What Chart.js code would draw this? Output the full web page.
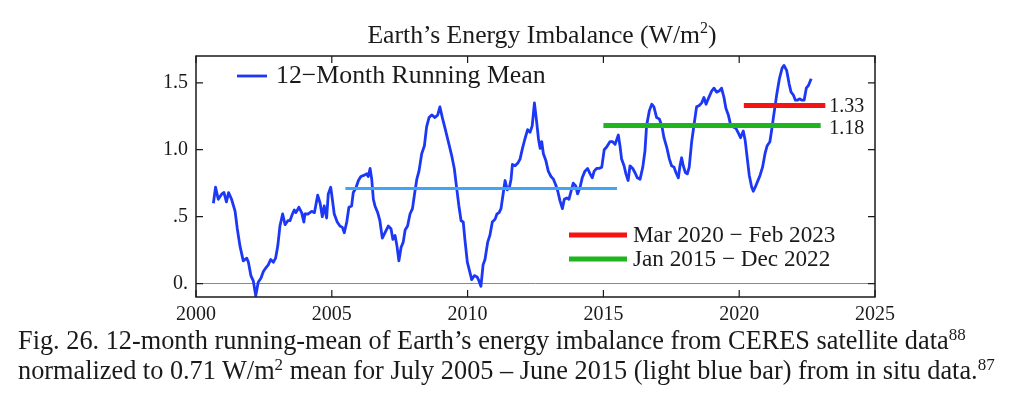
<!DOCTYPE html>
<html>
<head>
<meta charset="utf-8">
<script src="https://cdn.jsdelivr.net/npm/chart.js@4.4.1/dist/chart.umd.min.js"></script>
<style>
  html, body { margin: 0; padding: 0; background: #fff; }
  body { width: 1029px; height: 396px; position: relative; overflow: hidden; }
  #wrap { position: absolute; left: 0; top: 0; width: 1029px; height: 330px; }
  #caption {
    position: absolute; left: 18px; top: 326px; width: 1010px;
    font-family: "Liberation Serif", "Times New Roman", serif;
    font-size: 26.3px; line-height: 30px; color: #1a1a1a; white-space: nowrap;
  }
  #caption sup { font-size: 17px; line-height: 0; vertical-align: 9px; }
</style>
</head>
<body>
<div id="wrap"><canvas id="eei"></canvas></div>
<div id="caption">Fig. 26. 12-month running-mean of Earth’s energy imbalance from CERES satellite data<sup>88</sup><br>normalized to 0.71 W/m<sup>2</sup> mean for July 2005 – June 2015 (light blue bar) from in situ data.<sup>87</sup></div>
<script>
"use strict";

// 12-month running mean (decimal year, W/m2)
var years = [
  2000.64, 2000.72, 2000.82, 2000.95, 2001.03, 2001.12, 2001.20, 2001.31, 2001.44, 2001.52,
  2001.62, 2001.74, 2001.87, 2001.93, 2002.02, 2002.11, 2002.20, 2002.29, 2002.39, 2002.48,
  2002.58, 2002.66, 2002.75, 2002.85, 2002.93, 2003.01, 2003.09, 2003.19, 2003.28, 2003.38,
  2003.46, 2003.55, 2003.62, 2003.68, 2003.79, 2003.89, 2003.97, 2004.01, 2004.13, 2004.26,
  2004.36, 2004.48, 2004.57, 2004.65, 2004.72, 2004.81, 2004.87, 2004.96, 2005.02, 2005.09,
  2005.20, 2005.30, 2005.39, 2005.46, 2005.55, 2005.63, 2005.73, 2005.79, 2005.88, 2005.98,
  2006.07, 2006.20, 2006.28, 2006.34, 2006.41, 2006.47, 2006.53, 2006.59, 2006.69, 2006.77,
  2006.86, 2006.96, 2007.08, 2007.18, 2007.25, 2007.33, 2007.40, 2007.47, 2007.55, 2007.63,
  2007.70, 2007.79, 2007.88, 2007.97, 2008.04, 2008.13, 2008.21, 2008.31, 2008.41, 2008.49,
  2008.58, 2008.68, 2008.80, 2008.90, 2008.98, 2009.07, 2009.17, 2009.29, 2009.41, 2009.51,
  2009.60, 2009.68, 2009.76, 2009.84, 2009.90, 2009.99, 2010.09, 2010.15, 2010.25, 2010.35,
  2010.42, 2010.49, 2010.57, 2010.64, 2010.74, 2010.82, 2010.91, 2011.01, 2011.08, 2011.16,
  2011.23, 2011.28, 2011.38, 2011.46, 2011.54, 2011.60, 2011.65, 2011.75, 2011.85, 2011.93,
  2012.02, 2012.11, 2012.21, 2012.30, 2012.38, 2012.46, 2012.53, 2012.61, 2012.67, 2012.73,
  2012.79, 2012.88, 2012.97, 2013.07, 2013.16, 2013.24, 2013.32, 2013.40, 2013.49, 2013.56,
  2013.65, 2013.73, 2013.81, 2013.89, 2013.98, 2014.05, 2014.14, 2014.22, 2014.32, 2014.42,
  2014.51, 2014.59, 2014.66, 2014.75, 2014.84, 2014.94, 2015.03, 2015.12, 2015.24, 2015.34,
  2015.43, 2015.55, 2015.61, 2015.67, 2015.76, 2015.83, 2015.91, 2015.98, 2016.08, 2016.16,
  2016.25, 2016.35, 2016.45, 2016.53, 2016.59, 2016.69, 2016.78, 2016.86, 2016.96, 2017.06,
  2017.15, 2017.23, 2017.33, 2017.43, 2017.51, 2017.60, 2017.67, 2017.76, 2017.82, 2017.88,
  2017.94, 2018.02, 2018.09, 2018.16, 2018.25, 2018.34, 2018.43, 2018.53, 2018.62, 2018.70,
  2018.78, 2018.86, 2018.99, 2019.07, 2019.17, 2019.27, 2019.35, 2019.44, 2019.51, 2019.60,
  2019.69, 2019.78, 2019.88, 2019.98, 2020.05, 2020.15, 2020.22, 2020.30, 2020.37, 2020.46,
  2020.52, 2020.59, 2020.67, 2020.77, 2020.86, 2020.95, 2021.03, 2021.13, 2021.19, 2021.28,
  2021.38, 2021.48, 2021.58, 2021.65, 2021.75, 2021.84, 2021.91, 2021.99, 2022.07, 2022.14,
  2022.22, 2022.31, 2022.39, 2022.47, 2022.55, 2022.65
];
var imbalance = [
  0.60, 0.72, 0.63, 0.67, 0.68, 0.61, 0.68, 0.63, 0.54, 0.41,
  0.28, 0.17, 0.19, 0.16, 0.06, 0.02, -0.09, 0.01, 0.04, 0.09,
  0.12, 0.14, 0.18, 0.16, 0.19, 0.28, 0.43, 0.52, 0.44, 0.47,
  0.47, 0.52, 0.55, 0.53, 0.57, 0.53, 0.46, 0.52, 0.52, 0.54,
  0.53, 0.66, 0.60, 0.50, 0.58, 0.49, 0.67, 0.72, 0.63, 0.52,
  0.46, 0.43, 0.42, 0.38, 0.46, 0.57, 0.58, 0.68, 0.71, 0.77,
  0.80, 0.81, 0.82, 0.80, 0.86, 0.78, 0.63, 0.58, 0.53, 0.47,
  0.34, 0.38, 0.43, 0.41, 0.33, 0.36, 0.28, 0.17, 0.27, 0.31,
  0.40, 0.43, 0.52, 0.56, 0.66, 0.78, 0.84, 0.97, 1.03, 1.17,
  1.24, 1.26, 1.24, 1.26, 1.32, 1.24, 1.16, 1.06, 0.96, 0.86,
  0.71, 0.58, 0.47, 0.46, 0.33, 0.16, 0.08, 0.03, 0.06, 0.05,
  0.02, -0.02, 0.14, 0.18, 0.31, 0.36, 0.46, 0.48, 0.52, 0.53,
  0.56, 0.63, 0.77, 0.70, 0.72, 0.78, 0.89, 0.88, 0.90, 0.93,
  1.01, 1.08, 1.15, 1.13, 1.18, 1.35, 1.23, 1.08, 1.01, 1.06,
  0.97, 0.92, 0.84, 0.80, 0.78, 0.74, 0.69, 0.62, 0.56, 0.63,
  0.64, 0.63, 0.69, 0.75, 0.73, 0.67, 0.72, 0.79, 0.84, 0.86,
  0.82, 0.79, 0.84, 0.86, 0.86, 0.87, 1.00, 1.02, 1.06, 1.06,
  1.04, 1.11, 1.03, 0.93, 0.88, 0.82, 0.77, 0.88, 0.86, 0.83,
  0.79, 0.78, 0.87, 0.99, 1.18, 1.29, 1.34, 1.32, 1.24, 1.23,
  1.18, 1.09, 1.02, 0.93, 0.88, 0.87, 0.83, 0.79, 0.88, 0.94,
  0.88, 0.83, 0.82, 0.87, 1.06, 1.19, 1.32, 1.33, 1.35, 1.39,
  1.34, 1.38, 1.44, 1.46, 1.43, 1.44, 1.46, 1.39, 1.31, 1.26,
  1.18, 1.17, 1.16, 1.12, 1.09, 1.14, 1.07, 0.93, 0.81, 0.72,
  0.69, 0.72, 0.76, 0.81, 0.87, 0.97, 1.03, 1.06, 1.14, 1.27,
  1.41, 1.53, 1.61, 1.63, 1.59, 1.49, 1.43, 1.41, 1.37, 1.37,
  1.38, 1.37, 1.37, 1.46, 1.48, 1.53
];

// period means (start year, end year, value)
var insituBar = [2005.5, 2015.5, 0.71];
var bar2015 = [2015.0, 2023.0, 1.18];
var bar2020 = [2020.17, 2023.17, 1.33];

var xTicks = [2000, 2005, 2010, 2015, 2020, 2025];
var yTicks = [0, 0.5, 1.0, 1.5];
var yTickLabels = ["0.", ".5", "1.0", "1.5"];

var FONT = '"Liberation Serif", "Times New Roman", serif';
var INK = "#1a1a1a";
var BLUE = "#1d38f5";
var LIGHTBLUE = "#3ea6f2";
var GREEN = "#1fb51f";
var RED = "#f51414";

function pts(xs, ys) {
    return xs.map(function(x, i) { return { x: x, y: ys[i] }; });
}
function barPts(b) {
    return [{ x: b[0], y: b[2] }, { x: b[1], y: b[2] }];
}

// frame, inward tick marks, title, legends and bar labels
var decorations = {
    id: "decorations",
    afterDraw: function(chart) {
        var ctx = chart.ctx, a = chart.chartArea;
        var xs = chart.scales.x, ys = chart.scales.y;
        ctx.save();
        ctx.strokeStyle = INK;
        ctx.lineWidth = 1.5;
        ctx.strokeRect(a.left, a.top, a.right - a.left, a.bottom - a.top);
        ctx.lineWidth = 1.2;
        ctx.beginPath();
        xTicks.forEach(function(t) {
            var px = xs.getPixelForValue(t);
            ctx.moveTo(px, a.bottom); ctx.lineTo(px, a.bottom - 7);
            ctx.moveTo(px, a.top); ctx.lineTo(px, a.top + 7);
        });
        yTicks.forEach(function(t) {
            var py = ys.getPixelForValue(t);
            ctx.moveTo(a.left, py); ctx.lineTo(a.left + 7, py);
            ctx.moveTo(a.right, py); ctx.lineTo(a.right - 7, py);
        });
        ctx.stroke();

        // title with superscript
        ctx.fillStyle = INK;
        ctx.textBaseline = "alphabetic";
        ctx.textAlign = "left";
        var big = "25.7px " + FONT, small = "16px " + FONT;
        var t1 = "Earth’s Energy Imbalance (W/m", t2 = "2", t3 = ")";
        ctx.font = big;
        var w1 = ctx.measureText(t1).width, w3 = ctx.measureText(t3).width;
        ctx.font = small;
        var w2 = ctx.measureText(t2).width;
        var x0 = 542 - (w1 + w2 + w3) / 2;
        ctx.font = big;
        ctx.fillText(t1, x0, 43);
        ctx.font = small;
        ctx.fillText(t2, x0 + w1, 33);
        ctx.font = big;
        ctx.fillText(t3, x0 + w1 + w2, 43);

        // legend at top left
        ctx.lineWidth = 2.8;
        ctx.strokeStyle = BLUE;
        ctx.beginPath();
        ctx.moveTo(237, 76); ctx.lineTo(267, 76);
        ctx.stroke();
        ctx.font = "25.8px " + FONT;
        ctx.textBaseline = "middle";
        ctx.fillText("12−Month Running Mean", 276, 76);

        // legend for period bars
        ctx.lineWidth = 5;
        ctx.strokeStyle = RED;
        ctx.beginPath(); ctx.moveTo(569, 235); ctx.lineTo(627, 235); ctx.stroke();
        ctx.strokeStyle = GREEN;
        ctx.beginPath(); ctx.moveTo(569, 259); ctx.lineTo(627, 259); ctx.stroke();
        ctx.font = "23.2px " + FONT;
        ctx.fillText("Mar 2020 − Feb 2023", 633, 236);
        ctx.fillText("Jan 2015 − Dec 2022", 633, 260);

        // values next to bars
        ctx.font = "20px " + FONT;
        ctx.fillText("1.33", xs.getPixelForValue(bar2020[1]) + 4, ys.getPixelForValue(bar2020[2]) + 1);
        ctx.fillText("1.18", xs.getPixelForValue(bar2020[1]) + 4, ys.getPixelForValue(bar2015[2]) + 3);
        ctx.restore();
    }
};

new Chart(document.getElementById("eei"), {
    type: "line",
    data: {
        datasets: [
            { data: barPts(bar2020), borderColor: RED, borderWidth: 5, order: 0 },
            { data: barPts(bar2015), borderColor: GREEN, borderWidth: 5, order: 0 },
            { data: barPts(insituBar), borderColor: LIGHTBLUE, borderWidth: 3, order: 0 },
            { data: pts(years, imbalance), borderColor: BLUE, borderWidth: 2.8, order: 1 }
        ]
    },
    options: {
        responsive: true,
        maintainAspectRatio: false,
        animation: false,
        events: [],
        layout: { padding: { top: 56, right: 154, left: 0, bottom: 0 } },
        elements: {
            point: { radius: 0 },
            line: { tension: 0, borderCapStyle: "butt", borderJoinStyle: "round" }
        },
        plugins: { legend: { display: false }, tooltip: { enabled: false }, title: { display: false } },
        scales: {
            x: {
                type: "linear",
                min: 2000, max: 2025,
                afterBuildTicks: function(s) { s.ticks = xTicks.map(function(v) { return { value: v }; }); },
                afterFit: function(s) { s.height = 33; },
                grid: { display: false, drawTicks: false },
                border: { display: false },
                ticks: {
                    padding: 6, color: INK, maxRotation: 0,
                    font: { family: FONT, size: 20 },
                    callback: function(v) { return String(v); }
                }
            },
            y: {
                type: "linear",
                min: -0.1, max: 1.7,
                afterBuildTicks: function(s) { s.ticks = yTicks.map(function(v) { return { value: v }; }); },
                afterFit: function(s) { s.width = 196; },
                grid: {
                    drawTicks: false,
                    lineWidth: 1,
                    color: function(c) { return c.tick && c.tick.value === 0 ? "#8a8a8a" : "rgba(0,0,0,0)"; }
                },
                border: { display: false },
                ticks: {
                    padding: 8, color: INK,
                    font: { family: FONT, size: 20 },
                    callback: function(v) { var i = yTicks.indexOf(v); return i >= 0 ? yTickLabels[i] : ""; }
                }
            }
        }
    },
    plugins: [decorations]
});
</script>
</body>
</html>
